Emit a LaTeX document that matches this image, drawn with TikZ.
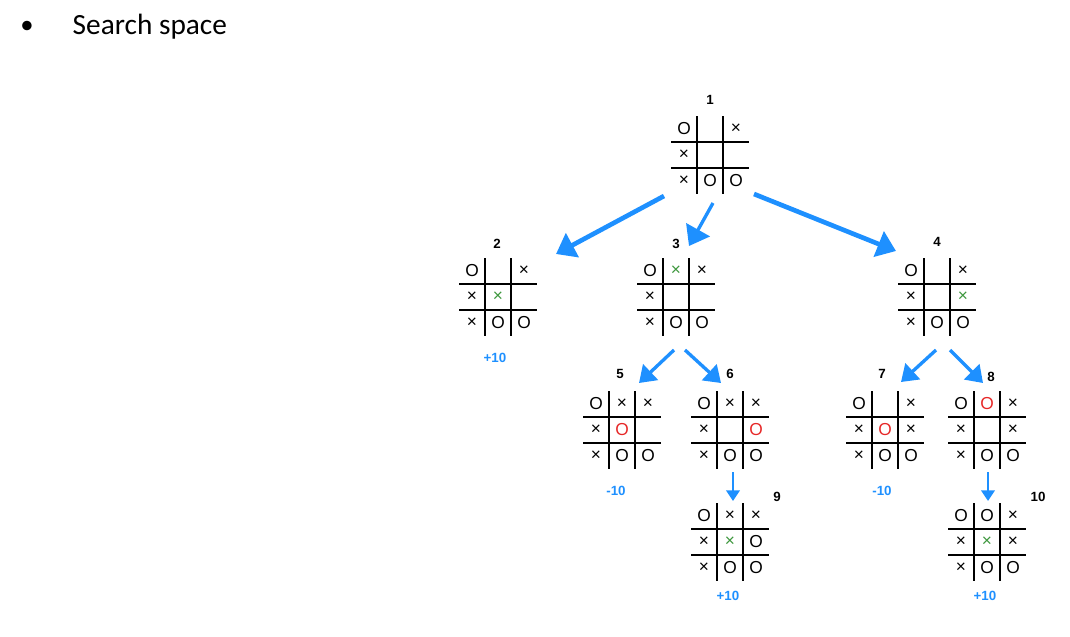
\documentclass[tikz,border=0pt]{standalone}
\usepackage{fontspec}
\setmainfont{Carlito}
\newfontfamily\mk{Liberation Sans}
\usetikzlibrary{arrows.meta}
\definecolor{ablue}{RGB}{30,144,255}
\definecolor{mgreen}{RGB}{60,150,60}
\definecolor{mred}{RGB}{230,40,40}
\tikzset{
  gl/.style={line width=1.3pt,black},
  num/.style={font=\mk\bfseries\fontsize{10}{10}\selectfont},
  score/.style={font=\mk\bfseries\fontsize{10}{10}\selectfont,text=ablue},
  tmark/.style={font=\mk\fontsize{13}{13}\selectfont,inner sep=0pt},
  bigarrow/.style={ablue,line width=3.5pt,-{Triangle[length=14pt,width=20pt]}},
  smallarrow/.style={ablue,line width=2.2pt,-{Triangle[length=8pt,width=10pt]}},
}
\newcommand{\cellmark}[3]{%
  \ifx#3o\node[tmark] at (#1,#2) {O};\fi
  \ifx#3x\node[tmark] at (#1,#2) {×};\fi
  \ifx#3g\node[tmark,text=mgreen] at (#1,#2) {×};\fi
  \ifx#3r\node[tmark,text=mred] at (#1,#2) {O};\fi}
% \board{name}{cx}{cy}{r1}{r2}{r3} each row 3 letters
\newcommand{\board}[6]{%
  \node[minimum size=58pt,inner sep=0pt] (#1) at (#2,#3) {};
  \draw[gl] (#2-13,#3-39) -- (#2-13,#3+39);
  \draw[gl] (#2+13,#3-39) -- (#2+13,#3+39);
  \draw[gl] (#2-39,#3-13) -- (#2+39,#3-13);
  \draw[gl] (#2-39,#3+13) -- (#2+39,#3+13);
  \rowmarks{#2}{#3-26}#4\relax
  \rowmarks{#2}{#3}#5\relax
  \rowmarks{#2}{#3+26}#6\relax}
\def\rowmarks#1#2#3#4#5\relax{\cellmark{#1-26}{#2}{#3}\cellmark{#1}{#2}{#4}\cellmark{#1+26}{#2}{#5}}
\begin{document}
\begin{tikzpicture}[x=0.75pt,y=-0.75pt]
\useasboundingbox (0,0) rectangle (1070,636);
\node[font=\fontsize{20}{20}\selectfont] (bul) at (27,27) {•};
\node[font=\fontsize{22}{22}\selectfont,anchor=west] (title) at (68,27) {Search space};

\board{b1}{710}{155}{oex}{xee}{xoo}
\board{b2}{498}{297}{oex}{xge}{xoo}
\board{b3}{676}{297}{ogx}{xee}{xoo}
\board{b4}{937}{297}{oex}{xeg}{xoo}
\board{b5}{622}{430}{oxx}{xre}{xoo}
\board{b6}{730}{430}{oxx}{xer}{xoo}
\board{b7}{885}{430}{oex}{xrx}{xoo}
\board{b8}{987}{430}{orx}{xex}{xoo}
\board{b9}{730}{542}{oxx}{xgo}{xoo}
\board{b10}{987}{542}{oox}{xgx}{xoo}

\node[num] (n1) at (710,100) {1};
\node[num] (n2) at (497,244) {2};
\node[num] (n3) at (676,244) {3};
\node[num] (n4) at (937,242) {4};
\node[num] (n5) at (620,374) {5};
\node[num] (n6) at (730,374) {6};
\node[num] (n7) at (882,374) {7};
\node[num] (n8) at (991,377) {8};
\node[num] (n9) at (777,497) {9};
\node[num] (n10) at (1038,497) {10};

\node[score] (s2) at (495,358) {+10};
\node[score] (s5) at (616,491) {-10};
\node[score] (s7) at (882,491) {-10};
\node[score] (s9) at (728,596) {+10};
\node[score] (s10) at (985,596) {+10};

\coordinate (a12s) at (664,196); \coordinate (a12e) at (556,254);
\coordinate (a13s) at (713,203); \coordinate (a13e) at (689,246);
\coordinate (a14s) at (754,194); \coordinate (a14e) at (896,251);
\coordinate (a35s) at (674,350); \coordinate (a35e) at (639,383);
\coordinate (a36s) at (685,350); \coordinate (a36e) at (721,383);
\coordinate (a47s) at (936,350); \coordinate (a47e) at (901,382);
\coordinate (a48s) at (950,350); \coordinate (a48e) at (983,383);
\coordinate (a69s) at (733,472); \coordinate (a69e) at (733,501);
\coordinate (a810s) at (988,472); \coordinate (a810e) at (988,501);
\draw[bigarrow] (a12s) -- (a12e);
\draw[bigarrow,line width=2.5pt] (a13s) -- (a13e);
\draw[bigarrow] (a14s) -- (a14e);
\draw[bigarrow,line width=2.5pt,-{Triangle[length=12pt,width=16pt]}] (a35s) -- (a35e);
\draw[bigarrow,line width=2.5pt,-{Triangle[length=12pt,width=16pt]}] (a36s) -- (a36e);
\draw[bigarrow,line width=2.5pt,-{Triangle[length=12pt,width=16pt]}] (a47s) -- (a47e);
\draw[bigarrow,line width=2.5pt,-{Triangle[length=12pt,width=16pt]}] (a48s) -- (a48e);
\draw[smallarrow] (a69s) -- (a69e);
\draw[smallarrow] (a810s) -- (a810e);
\end{tikzpicture}
\end{document}
